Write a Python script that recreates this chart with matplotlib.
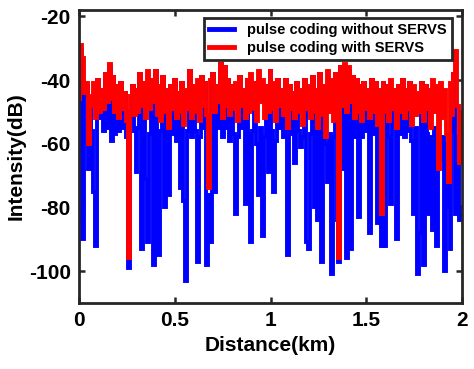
import numpy as np
import matplotlib
matplotlib.use('Agg')
import matplotlib.pyplot as plt

# distance axis, 0 to 2 km in 10 m steps
distance = np.linspace(0, 2, 201)

# pulse coding without SERVS (dB)
no_servs = [
    -85, -31, -90, -45, -42, -68, -46, -56, -75, -92,
    -40, -52, -43, -56, -38, -55, -36, -59, -39, -57,
    -42, -56, -41, -55, -44, -58, -99, -50, -42, -56,
    -69, -55, -38, -93, -41, -71, -91, -57, -40, -98,
    -37, -58, -95, -56, -39, -80, -43, -76, -42, -57,
    -40, -59, -44, -74, -41, -78, -103, -56, -37, -58,
    -42, -56, -97, -58, -39, -55, -41, -98, -76, -91,
    -38, -75, -42, -55, -35, -58, -36, -55, -40, -59,
    -42, -57, -82, -58, -39, -55, -43, -79, -40, -57,
    -91, -56, -41, -60, -76, -55, -89, -58, -42, -69,
    -37, -56, -75, -59, -40, -55, -43, -58, -40, -95,
    -42, -57, -44, -66, -41, -56, -61, -58, -40, -91,
    -93, -57, -39, -80, -43, -84, -38, -97, -42, -60,
    -72, -57, -101, -58, -38, -84, -97, -36, -68, -36,
    -96, -37, -93, -39, -58, -40, -83, -42, -58, -41,
    -56, -43, -88, -40, -57, -41, -85, -43, -92, -41,
    -92, -42, -58, -79, -49, -43, -90, -42, -57, -40,
    -58, -43, -56, -41, -59, -82, -55, -101, -88, -41,
    -98, -42, -57, -82, -58, -87, -55, -92, -60, -65,
    -58, -100, -60, -80, -93, -56, -38, -82, -58, -84,
    -80,
]

# pulse coding with SERVS (dB)
with_servs = [
    -46, -29, -33, -44, -41, -60, -45, -48, -41, -52,
    -40, -50, -43, -49, -38, -47, -35, -46, -39, -50,
    -42, -52, -41, -49, -44, -53, -96, -45, -42, -51,
    -43, -50, -38, -48, -41, -52, -37, -49, -40, -47,
    -37, -51, -42, -53, -39, -50, -43, -55, -42, -49,
    -40, -52, -44, -50, -41, -54, -43, -49, -37, -52,
    -42, -50, -40, -53, -39, -48, -41, -51, -74, -40,
    -38, -50, -42, -47, -35, -52, -36, -48, -40, -51,
    -42, -49, -41, -53, -39, -48, -43, -52, -40, -50,
    -38, -49, -41, -53, -37, -47, -40, -52, -42, -50,
    -37, -49, -41, -53, -40, -48, -43, -51, -40, -55,
    -42, -49, -44, -52, -41, -50, -43, -54, -40, -49,
    -42, -52, -39, -50, -43, -55, -38, -51, -42, -58,
    -37, -50, -40, -53, -38, -49, -96, -36, -48, -35,
    -50, -36, -47, -39, -52, -40, -50, -42, -53, -41,
    -49, -43, -52, -40, -50, -41, -54, -43, -82, -41,
    -50, -42, -53, -40, -49, -43, -55, -42, -50, -40,
    -52, -43, -49, -41, -54, -42, -51, -44, -50, -41,
    -53, -42, -49, -43, -55, -40, -50, -42, -68, -41,
    -52, -43, -57, -72, -41, -51, -38, -31, -48, -66,
    -50,
]

plt.rcParams['font.family'] = ['Liberation Sans', 'DejaVu Sans']
plt.rcParams['font.weight'] = 'bold'
plt.rcParams['axes.unicode_minus'] = False
plt.rcParams['path.simplify'] = False

fig = plt.figure(figsize=(4.74, 3.69), dpi=100)
ax = fig.add_axes([0.1667, 0.1789, 0.808, 0.794])

ax.plot(distance, no_servs, color=(0, 0, 1), linewidth=2.8, drawstyle='steps-mid',
        solid_joinstyle='miter', label='pulse coding without SERVS')
ax.plot(distance, with_servs, color=(1, 0, 0), linewidth=2.8, drawstyle='steps-mid',
        solid_joinstyle='miter', label='pulse coding with SERVS')

ax.set_xlim(0, 2)
ax.set_ylim(-110, -18)
ax.set_xticks([0, 0.5, 1, 1.5, 2])
ax.set_xticklabels(['0', '0.5', '1', '1.5', '2'])
ax.set_yticks([-100, -80, -60, -40, -20])
ax.tick_params(direction='in', top=True, right=True, length=4, width=1.8,
               labelsize=15, color='#262626', pad=6)
for sp in ax.spines.values():
    sp.set_linewidth(2)
    sp.set_color('#262626')

ax.set_xlabel('Distance(km)', fontsize=15, fontweight='bold', labelpad=4)
ax.set_ylabel('Intensity(dB)', fontsize=15, fontweight='bold', labelpad=2)

leg = ax.legend(loc='upper right', bbox_to_anchor=(0.974, 0.973), borderaxespad=0,
                fontsize=10.5, fancybox=False, edgecolor='#262626', framealpha=1,
                handlelength=1.7, handletextpad=0.9, labelspacing=0.25, borderpad=0.35)
leg.get_frame().set_linewidth(2)
for line in leg.get_lines():
    line.set_linewidth(3.5)

fig.savefig('out.png', dpi=100)
